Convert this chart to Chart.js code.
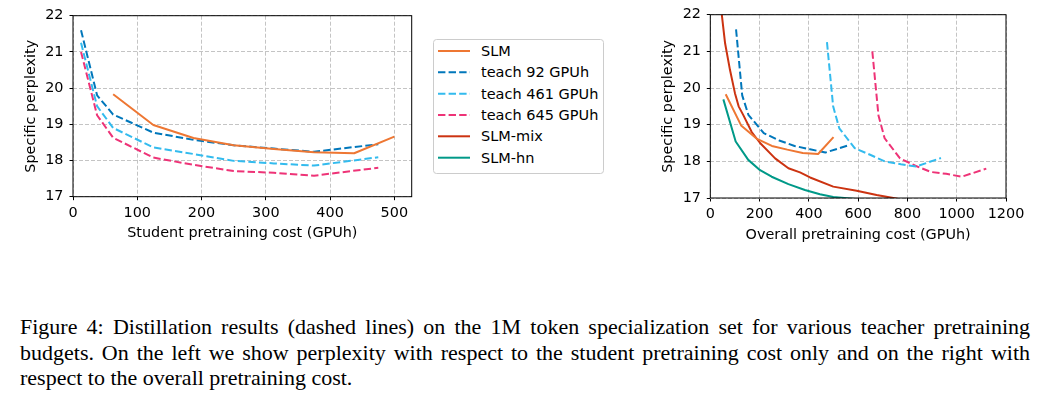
<!DOCTYPE html>
<html>
<head>
<meta charset="utf-8">
<script src="https://cdn.jsdelivr.net/npm/chart.js@4.4.1/dist/chart.umd.min.js"></script>
<style>
  body { margin: 0; background: #fff; width: 1049px; height: 396px; position: relative; overflow: hidden; }
  canvas { position: absolute; top: 0; }
  #legend { position: absolute; left: 433px; top: 39px; }
  .caption { position: absolute; left: 20px; top: 314px; width: 1010px; font-family: "Liberation Serif", serif; font-size: 22px; line-height: 25.5px; color: #000; }
  .caption div { text-align: justify; text-align-last: justify; }
  .caption div.last { text-align-last: left; }
</style>
</head>
<body>
<canvas id="leftChart" width="420" height="250" style="left:0"></canvas>
<svg id="legend" width="172" height="136" font-family="DejaVu Sans" font-size="14.5">
  <rect x="0.5" y="0.5" width="170" height="134" rx="3" fill="#fff" stroke="#cccccc"/>
  <line x1="5" y1="12" x2="37" y2="12" stroke="#EE7733" stroke-width="2"/>
  <text x="48" y="12" dominant-baseline="central">SLM</text>
  <line x1="5" y1="33.3" x2="37" y2="33.3" stroke="#0077BB" stroke-width="2" stroke-dasharray="7.4 3.2"/>
  <text x="48" y="33.3" dominant-baseline="central">teach 92 GPUh</text>
  <line x1="5" y1="54.7" x2="37" y2="54.7" stroke="#33BBEE" stroke-width="2" stroke-dasharray="7.4 3.2"/>
  <text x="48" y="54.7" dominant-baseline="central">teach 461 GPUh</text>
  <line x1="5" y1="76" x2="37" y2="76" stroke="#EE3377" stroke-width="2" stroke-dasharray="7.4 3.2"/>
  <text x="48" y="76" dominant-baseline="central">teach 645 GPUh</text>
  <line x1="5" y1="97.3" x2="37" y2="97.3" stroke="#CC3311" stroke-width="2"/>
  <text x="48" y="97.3" dominant-baseline="central">SLM-mix</text>
  <line x1="5" y1="118.7" x2="37" y2="118.7" stroke="#009988" stroke-width="2"/>
  <text x="48" y="118.7" dominant-baseline="central">SLM-hn</text>
</svg>
<canvas id="rightChart" width="409" height="250" style="left:640px"></canvas>
<div class="caption">
  <div>Figure 4: Distillation results (dashed lines) on the 1M token specialization set for various teacher pretraining</div>
  <div>budgets. On the left we show perplexity with respect to the student pretraining cost only and on the right with</div>
  <div class="last">respect to the overall pretraining cost.</div>
</div>
<script>
// student pretraining cost (GPUh)
const slmX = [62.5, 125, 187.5, 250, 312.5, 375, 437.5, 500];
const slmY = [19.83, 18.98, 18.62, 18.42, 18.32, 18.23, 18.20, 18.66];

const teachX = [12.5, 37.5, 62.5, 125, 187.5, 250, 312.5, 375, 475];
const teach92Y = [21.6, 19.8, 19.27, 18.77, 18.57, 18.42, 18.33, 18.24, 18.45];
const teach461Y = [21.25, 19.5, 18.9, 18.36, 18.18, 17.99, 17.92, 17.86, 18.09];
const teach645Y = [21.0, 19.25, 18.63, 18.08, 17.88, 17.71, 17.66, 17.58, 17.80];
const teacherCost = { t92: 92, t461: 461, t645: 645 };

// overall pretraining cost, right plot only
const mixX = [45, 60, 80, 100, 115, 134, 168, 202, 263, 317, 364, 405, 499, 594, 675, 760];
const mixY = [22.1, 21.22, 20.49, 19.86, 19.5, 19.26, 18.8, 18.5, 18.08, 17.81, 17.70, 17.56, 17.31, 17.20, 17.08, 16.98];
const hnX = [53, 103, 154, 202, 249, 317, 384, 445, 499, 594];
const hnY = [19.69, 18.54, 18.04, 17.76, 17.58, 17.38, 17.22, 17.10, 17.03, 16.97];

const yTicks = [17, 18, 19, 20, 21, 22];

const COLORS = {
  slm: '#EE7733', t92: '#0077BB', t461: '#33BBEE', t645: '#EE3377', mix: '#CC3311', hn: '#009988'
};
const DASH = [7.4, 3.2];
const FONT = { family: 'DejaVu Sans', size: 14.4 };

const pts = (xs, ys, shift = 0) => xs.map((x, i) => ({ x: x + shift, y: ys[i] }));

function line(label, data, color, dashed) {
  return {
    label, data,
    borderColor: color, backgroundColor: color,
    borderWidth: 2, borderDash: dashed ? DASH : [],
    borderCapStyle: 'butt', borderJoinStyle: 'round',
    pointRadius: 0, tension: 0, fill: false
  };
}

// draws the 4 spines like matplotlib
const frame = {
  id: 'frame',
  afterDraw(chart) {
    const { ctx, chartArea: a } = chart;
    ctx.save();
    ctx.strokeStyle = '#000';
    ctx.lineWidth = 1;
    ctx.strokeRect(a.left, a.top, a.right - a.left, a.bottom - a.top);
    ctx.restore();
  }
};

function makeOptions(o) {
  return {
    responsive: false,
    animation: false,
    layout: { padding: { left: 0, top: o.top, right: o.right, bottom: 0 } },
    plugins: { legend: { display: false }, tooltip: { enabled: false } },
    scales: {
      x: {
        type: 'linear', min: 0, max: o.xMax,
        afterFit: s => { s.height = o.xH; },
        ticks: { stepSize: o.xStep, includeBounds: false, color: '#000', font: FONT, padding: o.xTickPad, maxRotation: 0,
                 callback: v => String(v) },
        grid: { color: '#c4c4c4', lineWidth: 1, tickColor: '#000', tickLength: 3.5, tickBorderDash: [] },
        border: { display: false, dash: [4, 2] },
        title: { display: true, text: o.xTitle, color: '#000', font: FONT, padding: { top: 0, bottom: o.xTitlePad } }
      },
      y: {
        min: 17, max: 22,
        afterFit: s => { s.width = o.yW; },
        afterBuildTicks: s => { s.ticks = yTicks.map(v => ({ value: v })); },
        ticks: { color: '#000', font: FONT, padding: o.yTickPad, callback: v => String(v) },
        grid: { color: '#c4c4c4', lineWidth: 1, tickColor: '#000', tickLength: 3.5, tickBorderDash: [] },
        border: { display: false, dash: [4, 2] },
        title: { display: true, text: 'Specific perplexity', color: '#000', font: FONT, padding: { top: o.yTitlePad, bottom: 0 } }
      }
    }
  };
}

new Chart(document.getElementById('leftChart'), {
  type: 'line',
  data: {
    datasets: [
      line('SLM', pts(slmX, slmY), COLORS.slm, false),
      line('teach 92 GPUh', pts(teachX, teach92Y), COLORS.t92, true),
      line('teach 461 GPUh', pts(teachX, teach461Y), COLORS.t461, true),
      line('teach 645 GPUh', pts(teachX, teach645Y), COLORS.t645, true)
    ]
  },
  options: makeOptions({
    top: 15.7, right: 8.3, xMax: 527, xStep: 100, xH: 53.3, yW: 73,
    xTickPad: 4, xTitlePad: 8, yTickPad: 6, yTitlePad: 23,
    xTitle: 'Student pretraining cost (GPUh)'
  }),
  plugins: [frame]
});

new Chart(document.getElementById('rightChart'), {
  type: 'line',
  data: {
    datasets: [
      line('SLM', pts(slmX, slmY), COLORS.slm, false),
      line('teach 92 GPUh', pts(teachX, teach92Y, teacherCost.t92), COLORS.t92, true),
      line('teach 461 GPUh', pts(teachX, teach461Y, teacherCost.t461), COLORS.t461, true),
      line('teach 645 GPUh', pts(teachX, teach645Y, teacherCost.t645), COLORS.t645, true),
      line('SLM-mix', pts(mixX, mixY), COLORS.mix, false),
      line('SLM-hn', pts(hnX, hnY), COLORS.hn, false)
    ]
  },
  options: makeOptions({
    top: 14.7, right: 43, xMax: 1200, xStep: 200, xH: 52, yW: 70.3,
    xTickPad: 4.2, xTitlePad: 6.4, yTickPad: 5.8, yTitlePad: 19.7,
    xTitle: 'Overall pretraining cost (GPUh)'
  }),
  plugins: [frame]
});
</script>
</body>
</html>
